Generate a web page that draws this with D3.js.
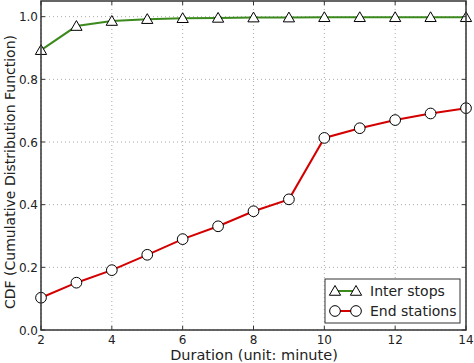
<!DOCTYPE html>
<html>
<head>
<meta charset="UTF-8">
<style>
  body { margin: 0; background: #fff; }
  text { font-family: "DejaVu Sans", sans-serif; fill: #222; }
</style>
</head>
<body>
<svg id="chart" width="474" height="363"></svg>
<script src="https://cdn.jsdelivr.net/npm/d3@7"></script>
<script>
var durations = [2, 3, 4, 5, 6, 7, 8, 9, 10, 11, 12, 13, 14];
var interStops = [0.893, 0.970, 0.986, 0.992, 0.995, 0.996, 0.997, 0.997, 0.998, 0.998, 0.998, 0.998, 0.998];
var endStations = [0.103, 0.151, 0.191, 0.240, 0.290, 0.331, 0.379, 0.417, 0.613, 0.644, 0.670, 0.691, 0.708];
var xTicks = [2, 4, 6, 8, 10, 12, 14];
var yTicks = [0, 0.2, 0.4, 0.6, 0.8, 1.0];

var m = { left: 41, right: 8, top: 1, bottom: 33 };
var w = 474, h = 363;
var svg = d3.select("#chart");

var x = d3.scaleLinear().domain([2, 14]).range([m.left, w - m.right]);
var y = d3.scaleLinear().domain([0, 1.05]).range([h - m.bottom, m.top]);

// grid
var grid = svg.append("g").attr("stroke", "#aaa").attr("stroke-dasharray", "1,3").attr("stroke-width", 1);
xTicks.forEach(function (t) {
  grid.append("line").attr("x1", x(t)).attr("x2", x(t)).attr("y1", y.range()[0]).attr("y2", y.range()[1]);
});
yTicks.forEach(function (t) {
  grid.append("line").attr("y1", y(t)).attr("y2", y(t)).attr("x1", x.range()[0]).attr("x2", x.range()[1]);
});

// lines
function drawSeries(vals, color, shape) {
  var line = d3.line().x(function (d, i) { return x(durations[i]); }).y(function (d) { return y(d); });
  svg.append("path").datum(vals).attr("fill", "none").attr("stroke", color).attr("stroke-width", 2).attr("d", line);
  var sym = d3.symbol().type(shape === "tri" ? d3.symbolTriangle : d3.symbolCircle).size(shape === "tri" ? 55 : 90);
  svg.append("g").selectAll("path").data(vals).enter().append("path")
    .attr("d", sym)
    .attr("transform", function (d, i) { return "translate(" + x(durations[i]) + "," + (y(d) + (shape === "tri" ? 1 : 0)) + ")"; })
    .attr("fill", "#fff").attr("stroke", "#000").attr("stroke-width", 1);
}

drawSeries(interStops, "#3c8a1e", "tri");
drawSeries(endStations, "#d40000", "circle");

// frame
svg.append("rect").attr("x", m.left).attr("y", m.top).attr("width", w - m.left - m.right).attr("height", h - m.top - m.bottom)
  .attr("fill", "none").attr("stroke", "#333").attr("stroke-width", 1.5);

// ticks
var gx = svg.append("g");
xTicks.forEach(function (t) {
  gx.append("line").attr("x1", x(t)).attr("x2", x(t)).attr("y1", h - m.bottom).attr("y2", h - m.bottom - 4).attr("stroke", "#333");
  gx.append("line").attr("x1", x(t)).attr("x2", x(t)).attr("y1", m.top).attr("y2", m.top + 4).attr("stroke", "#333");
  gx.append("text").attr("x", x(t)).attr("y", h - m.bottom + 14).attr("text-anchor", "middle").attr("font-size", 12).text(t);
});
yTicks.forEach(function (t) {
  gx.append("line").attr("x1", m.left).attr("x2", m.left + 4).attr("y1", y(t)).attr("y2", y(t)).attr("stroke", "#333");
  gx.append("line").attr("x1", w - m.right).attr("x2", w - m.right - 4).attr("y1", y(t)).attr("y2", y(t)).attr("stroke", "#333");
  gx.append("text").attr("x", m.left - 3).attr("y", y(t) + 4.5).attr("text-anchor", "end").attr("font-size", 12).text(t.toFixed(1));
});

svg.append("text").attr("x", 254).attr("y", 360).attr("text-anchor", "middle").attr("font-size", 14.5)
  .text("Duration (unit: minute)");
svg.append("text").attr("transform", "translate(15,172) rotate(-90)")
  .attr("text-anchor", "middle").attr("font-size", 14).text("CDF (Cumulative Distribution Function)");

// legend
var lg = svg.append("g");
lg.append("rect").attr("x", 325).attr("y", 279).attr("width", 135).attr("height", 44).attr("fill", "#fff").attr("stroke", "#333").attr("stroke-width", 1);
[["Inter stops", "#3c8a1e", d3.symbolTriangle, 55], ["End stations", "#d40000", d3.symbolCircle, 90]].forEach(function (e, i) {
  var yy = 291 + i * 20;
  lg.append("line").attr("x1", 335).attr("x2", 356).attr("y1", yy).attr("y2", yy).attr("stroke", e[1]).attr("stroke-width", 2);
  [335, 356].forEach(function (xx) {
    lg.append("path").attr("d", d3.symbol().type(e[2]).size(e[3])).attr("transform", "translate(" + xx + "," + (yy + (i === 0 ? 1 : 0)) + ")")
      .attr("fill", "#fff").attr("stroke", "#000");
  });
  lg.append("text").attr("x", 370).attr("y", yy + 5).attr("font-size", 14).text(e[0]);
});
</script>
</body>
</html>
